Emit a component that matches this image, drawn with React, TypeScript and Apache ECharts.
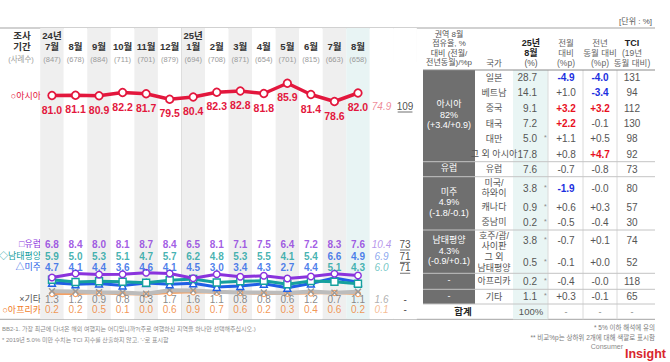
import React, { useEffect, useRef } from "react";
import * as echarts from "echarts";

// ---------------- data ----------------
const periods = ["24년 7월", "24년 8월", "24년 9월", "24년 10월", "24년 11월", "24년 12월", "25년 1월", "25년 2월", "25년 3월", "25년 4월", "25년 5월", "25년 6월", "25년 7월", "25년 8월"];
const sampleSizes = [847, 678, 884, 711, 701, 879, 694, 708, 871, 654, 701, 815, 663, 658];
const refColumns = ["'19년 8월", "'25년 8월 TCI"];

const asia = [81.0, 81.1, 80.9, 82.2, 81.7, 79.5, 80.4, 82.3, 82.8, 81.8, 85.9, 81.4, 78.6, 82.0];
const europe = [6.8, 8.4, 8.0, 8.1, 8.7, 8.4, 6.5, 8.1, 7.1, 7.5, 6.4, 7.2, 8.3, 7.6];
const southPacific = [5.9, 5.0, 5.3, 5.1, 4.7, 5.7, 6.2, 4.8, 5.3, 5.5, 4.1, 5.4, 5.1, 4.3];
const americas = [4.7, 4.1, 4.4, 3.6, 4.6, 4.1, 4.5, 3.0, 3.4, 4.3, 2.7, 4.4, 6.6, 4.9];
const others = [1.3, 1.2, 0.9, 0.8, 0.3, 1.7, 1.6, 1.1, 0.8, 0.8, 0.6, 1.2, 0.7, 1.1];
const africa = [0.2, 0.2, 0.5, 0.1, 0.0, 0.6, 0.9, 0.7, 0.6, 0.2, 0.3, 0.4, 0.6, 0.2];

// order: 아시아, 유럽, 남태평양, 미주, 기타, 아프리카
const aug2019 = [74.9, 10.4, 6.0, 6.9, 1.6, 0.1];
const tciAug2025 = [109, 73, 71, 71, null, null];

// table
const tableCountries = ["일본", "베트남", "중국", "태국", "대만", "그 외 아시아", "유럽", "미국/\n하와이", "캐나다", "중남미", "호주/괌/\n사이판", "그 외\n남태평양", "아프리카", "기타"];
const tableShare = [28.7, 14.1, 9.1, 7.2, 5.0, 17.8, 7.6, 3.8, 0.9, 0.2, 3.8, 0.5, 0.2, 1.1];
const tableMom = ["-4.9", "+1.0", "+3.2", "+2.2", "+1.1", "+0.8", "-0.7", "-1.9", "+0.6", "-0.5", "-0.7", "-0.1", "-0.4", "+0.3"];
const tableYoy = ["-4.0", "-3.4", "+3.2", "-0.1", "+0.5", "+4.7", "-0.8", "-0.0", "+0.3", "-0.4", "+0.1", "+0.0", "-0.0", "-0.1"];
const tableTci = [131, 94, 112, 130, 98, 92, 73, 80, 57, 30, 74, 52, 118, 65];
const blockTitles = ["아시아\n82%\n(+3.4/+0.9)", "유럽", "미주\n4.9%\n(-1.8/-0.1)", "남태평양\n4.3%\n(-0.9/+0.1)", "-", "-"];
const blockRowCounts = [6, 1, 3, 2, 1, 1];
const totalRow = ["합계", "100%", "-", "-", "-"];

// ---------------- layout / style ----------------
const W = 670, H = 362;
const PLOT_LEFT = 40.2, COL_W = 23.54;
const TOP_Y = 28, BOTTOM_Y = 319.3;
const RANK_ROWS = [244, 256.3, 267.2];
const ROW_OT = 299, ROW_AF = 309.8, ROW_ASIA_REF = 106;

const FONT_KR = "'Liberation Sans', 'Noto Sans CJK KR', sans-serif";
const FONT_NUM = "'Liberation Sans Narrow', 'Liberation Sans', 'Noto Sans CJK KR', sans-serif";

const C = { asia: "#e3173d", eu: "#8a33dd", pa: "#15a09e", am: "#1f5fe6", ot: "#bcbcbc", otText: "#6b6b6b", af: "#f5a062", afText: "#f07c2a" };
const C19 = { asia: "#ea6d7d", eu: "#a57ae6", pa: "#4fb8b6", am: "#6b8fea", ot: "#9a9a9a", af: "#f4ab78" };

const T = { left: 423, right: 655, headBottom: 70, darkRight: 475, tealL: 513, tealR: 548, xBlock: 449, xCountry: 494, xShare: 537, xStar: 541, xMom: 566, xYoy: 600, xTci: 632 };
const ROW_H = [15.3, 15.3, 15.3, 15.3, 15.3, 15.2, 15, 22.8, 15.2, 15.3, 21.6, 21.7, 16, 14.7];
const TOTAL_H = 15.3;

const X_SYMBOL = "path://M1.5,0 L5,3.5 L8.5,0 L10,1.5 L6.5,5 L10,8.5 L8.5,10 L5,6.5 L1.5,10 L0,8.5 L3.5,5 L0,1.5 Z";

function txt(text: string, x: number, y: number, o: any = {}) {
  const fs = o.fontSize || 9;
  return {
    type: "text",
    x, y,
    silent: true,
    style: {
      text,
      fill: o.fill || "#555",
      fontSize: fs,
      fontWeight: o.fontWeight || "normal",
      fontStyle: o.fontStyle || "normal",
      fontFamily: o.fontFamily || FONT_KR,
      align: o.align || "center",
      verticalAlign: o.verticalAlign || "middle",
      lineHeight: o.lineHeight || Math.round(fs * 1.1),
    },
  };
}
function hline(x1: number, x2: number, y: number, stroke: string, lineWidth = 1) {
  return { type: "line", silent: true, shape: { x1, y1: y, x2, y2: y }, style: { stroke, lineWidth } };
}
function vline(x: number, y1: number, y2: number, stroke: string, lineWidth = 1) {
  return { type: "line", silent: true, shape: { x1: x, y1, x2: x, y2 }, style: { stroke, lineWidth } };
}

function buildOption() {
  const columns = [...periods, ...refColumns];
  const NCOL = columns.length;
  const plotW = COL_W * NCOL;
  const cx = (i: number) => PLOT_LEFT + (i + 0.5) * COL_W;
  const gb = { left: PLOT_LEFT, width: plotW, show: false, containLabel: false, outerBoundsMode: "none" };

  const bandColors = columns.map((_, i) => (i >= periods.length ? "#ffffff" : i === periods.length - 1 ? "#e8f4f4" : i % 2 === 0 ? "#efefef" : "#ffffff"));

  const headerFormatter = (_v: string, idx: number) => {
    if (idx >= periods.length) return "";
    const [yr, mo] = periods[idx].split(" ");
    const showYear = idx === 0 || mo === "1월";
    return `{y|${showYear ? yr : " "}}\n{m|${mo}}\n{n|(${sampleSizes[idx]})}`;
  };

  const hiddenX = (gi: number) => ({ gridIndex: gi, type: "category", data: columns, boundaryGap: true, show: false });

  // ---------- label rows (drawn through a pixel-unit value axis) ----------
  const main = [europe, southPacific, americas];
  const mainColors = [C.eu, C.pa, C.am];
  const mainColors19 = [C19.eu, C19.pa, C19.am];
  const labelData: any[] = [];
  const push = (i: number, y: number, text: string, style: any) =>
    labelData.push({ value: [i, y], label: { formatter: text, ...style } });

  for (let i = 0; i < periods.length; i++) {
    const order = [0, 1, 2].sort((a, b) => main[b][i] - main[a][i]);
    order.forEach((s, r) => push(i, RANK_ROWS[r], main[s][i].toFixed(1), { color: mainColors[s], fontWeight: "bold" }));
    push(i, ROW_OT, others[i].toFixed(1), { color: C.otText });
    push(i, ROW_AF, africa[i].toFixed(1), { color: C.afText });
  }
  // '19년 8월 column
  const i19 = periods.length;
  const it = { fontStyle: "italic" };
  push(i19, ROW_ASIA_REF, aug2019[0].toFixed(1), { color: C19.asia, ...it });
  const v19 = [aug2019[1], aug2019[2], aug2019[3]];
  [0, 1, 2].sort((a, b) => v19[b] - v19[a]).forEach((s, r) => push(i19, RANK_ROWS[r], v19[s].toFixed(1), { color: mainColors19[s], ...it }));
  push(i19, ROW_OT, aug2019[4].toFixed(1), { color: C19.ot, ...it });
  push(i19, ROW_AF, aug2019[5].toFixed(1), { color: C19.af, ...it });
  // TCI column
  const iT = periods.length + 1;
  const underline: any[] = [];
  const tciText = (v: number | null) => (v == null ? "-" : String(v));
  const pushTci = (y: number, v: number | null) => {
    push(iT, y, tciText(v), { color: "#222" });
    if (v != null) underline.push({ value: [iT, y + 6], symbolSize: [String(v).length * 4.6 + 1, 0.8] });
  };
  pushTci(ROW_ASIA_REF, tciAug2025[0]);
  const last = periods.length - 1;
  const tciMain = [tciAug2025[1], tciAug2025[2], tciAug2025[3]];
  [0, 1, 2].sort((a, b) => main[b][last] - main[a][last]).forEach((s, r) => pushTci(RANK_ROWS[r], tciMain[s]));
  pushTci(ROW_OT, tciAug2025[4]);
  pushTci(ROW_AF, tciAug2025[5]);

  // ---------- line series ----------
  const line = (name: string, data: number[], gi: number, color: string, o: any) => ({
    type: "line",
    name,
    data,
    xAxisIndex: gi,
    yAxisIndex: gi,
    color,
    clip: false,
    silent: true,
    symbol: o.symbol,
    symbolSize: o.symbolSize,
    showAllSymbol: true,
    lineStyle: { color: o.lineColor || color, width: o.width },
    itemStyle: { color: o.fill || "#fff", borderColor: color, borderWidth: o.borderWidth ?? 1.6 },
    label: o.label || { show: false },
    z: o.z || 3,
  });

  const series: any[] = [
    line("아시아", asia, 1, C.asia, {
      symbol: "circle", symbolSize: 7.5, width: 3.5, borderWidth: 1.8, z: 5,
      label: { show: true, position: "bottom", distance: 4, color: C.asia, fontWeight: "bold", fontSize: 10.5, lineHeight: 11, fontFamily: FONT_NUM, formatter: (p: any) => Number(p.value).toFixed(1) },
    }),
    line("아프리카", africa, 2, C.af, { symbol: "circle", symbolSize: 5, width: 2, borderWidth: 1.2, z: 2 }),
    line("기타", others, 2, C.ot, { symbol: X_SYMBOL, symbolSize: 7, width: 4, fill: "#9a9a9a", borderWidth: 0, z: 2 }),
    line("미주", americas, 2, C.am, { symbol: "triangle", symbolSize: 7, width: 3, borderWidth: 1.4, z: 3 }),
    line("남태평양", southPacific, 2, C.pa, { symbol: "rect", symbolSize: 7, width: 3, borderWidth: 1.4, z: 4 }),
    line("유럽", europe, 2, C.eu, { symbol: "circle", symbolSize: 6.5, width: 3, borderWidth: 1.4, z: 5 }),
    {
      type: "scatter",
      xAxisIndex: 3,
      yAxisIndex: 3,
      silent: true,
      symbolSize: 1,
      itemStyle: { color: "rgba(0,0,0,0)" },
      label: { show: true, position: "inside", fontSize: 10, lineHeight: 10, fontFamily: FONT_NUM },
      data: labelData,
      z: 6,
    },
    {
      type: "scatter",
      xAxisIndex: 3,
      yAxisIndex: 3,
      silent: true,
      symbol: "rect",
      itemStyle: { color: "#222" },
      data: underline,
      z: 6,
    },
  ];

  // ---------- graphic: frame, headers, legend, table ----------
  const g: any[] = [];
  // frame lines
  g.push(hline(0, T.right, TOP_Y, "#a3a3a3"));
  g.push(hline(0, T.right, BOTTOM_Y, "#a3a3a3"));
  g.push(vline(PLOT_LEFT + 6 * COL_W, TOP_Y, BOTTOM_Y, "#9a9a9a"));
  // header left
  g.push(txt("조사\n기간", 22, 41, { fontSize: 9.5, fontWeight: "bold", fill: "#333", lineHeight: 11 }));
  g.push(txt("(사례수)", 21, 59.5, { fontSize: 7.5, fill: "#9a9a9a" }));
  // ref column pentagon headers
  const pent = (i: number, fill: string) => {
    const l = cx(i) - COL_W / 2 + 0.6, r = cx(i) + COL_W / 2 - 0.6;
    return { type: "polygon", silent: true, shape: { points: [[l, TOP_Y + 1], [r, TOP_Y + 1], [r, 62], [cx(i), 72], [l, 62]] }, style: { fill } };
  };
  g.push(pent(i19, "#d3d3d3"));
  g.push(pent(iT, "#c4c4c4"));
  g.push(txt("'19년\n8월", cx(i19), 46, { fontSize: 9, fontWeight: "bold", fill: "#333", lineHeight: 11 }));
  g.push(txt("'25년\n8월\nTCI", cx(iT), 46.5, { fontSize: 9, fontWeight: "bold", fill: "#333", lineHeight: 10.3 }));
  // legend labels
  const legend: [string, string, number][] = [
    ["○아시아", C.asia, 96],
    ["□유럽", C.eu, RANK_ROWS[0]],
    ["◇남태평양", C.pa, RANK_ROWS[1]],
    ["△미주", C.am, RANK_ROWS[2]],
    ["×기타", "#555", ROW_OT],
    ["○아프리카", C.afText, ROW_AF],
  ];
  legend.forEach(([t, c, y]) => g.push(txt(t, 41, y, { fill: c, fontSize: 9, align: "right", lineHeight: 10 })));

  // unit
  g.push(txt("[단위 : %]", 652, 21.5, { fontSize: 8, fill: "#555", align: "right" }));

  // table backgrounds
  let y = T.headBottom;
  const rowTops: number[] = [];
  ROW_H.forEach((h) => { rowTops.push(y); y += h; });
  const bodyEnd = y;
  const tableBottom = bodyEnd + TOTAL_H;
  g.push({ type: "rect", silent: true, shape: { x: T.tealL, y: T.headBottom, width: T.tealR - T.tealL, height: tableBottom - T.headBottom }, style: { fill: "#e9f5f4" } });
  g.push({ type: "rect", silent: true, shape: { x: T.left, y: T.headBottom, width: T.darkRight - T.left, height: bodyEnd - T.headBottom }, style: { fill: "#6f6f6f" } });
  [T.tealR, 583, 617].forEach((x) => g.push(vline(x, T.headBottom, tableBottom, "#dadada")));

  // table header
  g.push(txt("권역 8월\n점유율, %\n대비 (전월/\n전년동월)/%p", T.xBlock, 48.5, { fontSize: 8, lineHeight: 9.6, fill: "#555" }));
  g.push(txt("국가", T.xCountry, 63, { fontSize: 8.5, fill: "#555" }));
  g.push(txt("25년\n8월", 531, 47.5, { fontSize: 9, fontWeight: "bold", fill: "#222", lineHeight: 10 }));
  g.push(txt("(%)", 531, 63, { fontSize: 8.5, fill: "#555", lineHeight: 9 }));
  g.push(txt("전월\n대비\n(%p)", T.xMom, 53, { fontSize: 8.5, fill: "#666", lineHeight: 9.7 }));
  g.push(txt("전년\n동월 대비\n(%p)", T.xYoy, 53, { fontSize: 8.5, fill: "#666", lineHeight: 9.7 }));
  g.push(txt("TCI", T.xTci, 43, { fontSize: 9, fontWeight: "bold", fill: "#222", lineHeight: 9.5 }));
  g.push(txt("(19년\n동월 대비)", T.xTci, 58, { fontSize: 8.5, fill: "#666", lineHeight: 9.7 }));
  g.push(hline(T.left, T.right, T.headBottom, "#8a8a8a"));

  // highlight top2 / bottom2
  const rankSet = (arr: string[]) => {
    const vals = arr.map((s) => parseFloat(s));
    const idx = vals.map((_, i) => i).sort((a, b) => vals[b] - vals[a]);
    const top = new Set(idx.slice(0, 2));
    const bot = new Set(idx.slice(-2));
    return (i: number) => (top.has(i) ? "#e8101e" : bot.has(i) ? "#1b2fe0" : null);
  };
  const momHi = rankSet(tableMom);
  const yoyHi = rankSet(tableYoy);

  tableCountries.forEach((name, i) => {
    const yc = rowTops[i] + ROW_H[i] / 2;
    g.push(txt(name, T.xCountry, yc, { fontSize: 9, fill: "#555", lineHeight: 10.5 }));
    const share = tableShare[i];
    g.push(txt(share.toFixed(1), T.xShare, yc, { fontSize: 10, fill: "#555", align: "right", fontFamily: FONT_NUM }));
    if (share <= 5.0) g.push(txt("*", T.xStar + 3, yc - 1, { fontSize: 7, fill: "#888", align: "left" }));
    const mh = momHi(i), yh = yoyHi(i);
    g.push(txt(tableMom[i], T.xMom, yc, { fontSize: 10, fill: mh || "#555", fontWeight: mh ? "bold" : "normal", fontFamily: FONT_NUM }));
    g.push(txt(tableYoy[i], T.xYoy, yc, { fontSize: 10, fill: yh || "#555", fontWeight: yh ? "bold" : "normal", fontFamily: FONT_NUM }));
    g.push(txt(String(tableTci[i]), T.xTci, yc, { fontSize: 10, fill: "#555", fontFamily: FONT_NUM }));
  });

  // block titles + separators
  let r0 = 0;
  blockRowCounts.forEach((n, b) => {
    const top = rowTops[r0];
    const bottom = r0 + n < ROW_H.length ? rowTops[r0 + n] : bodyEnd;
    g.push(txt(blockTitles[b], T.xBlock, (top + bottom) / 2 - 1, { fontSize: 9, fill: "#fff", lineHeight: 10.5 }));
    g.push(hline(T.left, T.right, bottom, "#c4c4c4"));
    r0 += n;
  });

  // total row
  const yt = bodyEnd + TOTAL_H / 2;
  g.push(txt(totalRow[0], 463, yt, { fontSize: 9.5, fontWeight: "bold", fill: "#222" }));
  g.push(txt(totalRow[1], 531, yt, { fontSize: 9.5, fill: "#555", fontFamily: FONT_NUM }));
  g.push(txt(totalRow[2], T.xMom, yt, { fontSize: 9, fill: "#888" }));
  g.push(txt(totalRow[3], T.xYoy, yt, { fontSize: 9, fill: "#888" }));
  g.push(txt(totalRow[4], T.xTci, yt, { fontSize: 9, fill: "#888" }));

  // footnotes
  g.push(txt("BB2-1. 가장 최근에 다녀온 해외 여행지는 어디입니까?(주로 여행하신 지역을 하나만 선택해주십시오.)", 2, 329, { fontSize: 6, fill: "#8a8a8a", align: "left" }));
  g.push(txt("* 2019년 5.0% 미만 수치는 TCI 지수를 산출하지 않고, '-'로 표시함", 2, 340, { fontSize: 6, fill: "#8a8a8a", align: "left" }));
  g.push(txt("* 5% 이하 해석에 유의", 655, 327, { fontSize: 6.5, fill: "#7a7a7a", align: "right" }));
  g.push(txt("** 비교%p는 상하위 2개에 대해 색깔로 표시함", 655, 337, { fontSize: 6.5, fill: "#7a7a7a", align: "right" }));
  g.push(txt("Consumer", 623, 346.5, { fontSize: 7, fill: "#8a8a8a", align: "right", fontFamily: "'Liberation Sans', sans-serif", lineHeight: 7 }));
  g.push(txt("Insight", 625, 354, { fontSize: 12.5, fill: "#d8262d", fontWeight: "bold", align: "left", fontFamily: "'Liberation Sans', sans-serif", lineHeight: 12 }));

  return {
    animation: false,
    backgroundColor: "#fff",
    grid: [
      { ...gb, top: TOP_Y, height: BOTTOM_Y - TOP_Y },
      { ...gb, top: 73, height: 37.5 },
      { ...gb, top: 269.5, height: 25 },
      { ...gb, top: 0, height: H },
    ],
    xAxis: [
      {
        gridIndex: 0,
        type: "category",
        data: columns,
        position: "top",
        boundaryGap: true,
        axisLine: { show: false },
        axisTick: { show: false, interval: 0 },
        splitLine: { show: false },
        splitArea: { show: true, interval: 0, areaStyle: { color: bandColors } },
        axisLabel: {
          inside: true,
          interval: 0,
          margin: 2,
          formatter: headerFormatter,
          rich: {
            y: { fontSize: 9.5, fontWeight: "bold", color: "#333", lineHeight: 11, fontFamily: FONT_KR },
            m: { fontSize: 9.5, fontWeight: "bold", color: "#333", lineHeight: 11, fontFamily: FONT_KR },
            n: { fontSize: 7.5, color: "#9a9a9a", lineHeight: 15, fontFamily: FONT_KR },
          },
        },
      },
      hiddenX(1),
      hiddenX(2),
      hiddenX(3),
    ],
    yAxis: [
      { gridIndex: 0, type: "value", min: 0, max: 1, show: false },
      { gridIndex: 1, type: "value", min: 75, max: 90, show: false },
      { gridIndex: 2, type: "value", min: 0, max: 10, show: false },
      { gridIndex: 3, type: "value", min: 0, max: H, inverse: true, show: false },
    ],
    series,
    graphic: { elements: g },
  };
}

export default function App() {
  const ref = useRef<HTMLDivElement>(null);
  useEffect(() => {
    const chart = echarts.init(ref.current as HTMLDivElement, null, { renderer: "svg" });
    chart.setOption(buildOption() as any);
    return () => chart.dispose();
  }, []);
  return <div ref={ref} style={{ position: "absolute", left: 0, top: 0, width: W, height: H, background: "#fff" }} />;
}
